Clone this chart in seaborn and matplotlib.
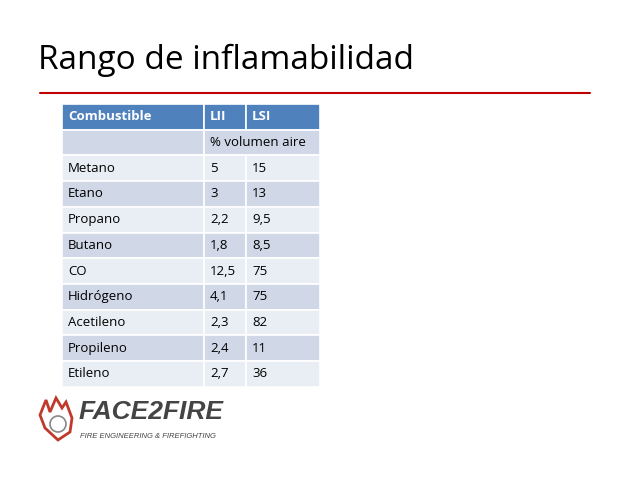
import matplotlib
matplotlib.use("Agg")
import matplotlib.pyplot as plt
import seaborn as sns
from matplotlib.patches import Rectangle, Polygon, Circle

sns.set_theme(style="white")
plt.rcParams['font.family'] = ['Open Sans', 'DejaVu Sans']
plt.rcParams['text.color'] = 'black'

combustibles = ["Metano", "Etano", "Propano", "Butano", "CO", "Hidrógeno", "Acetileno", "Propileno", "Etileno"]
lii = ["5", "3", "2,2", "1,8", "12,5", "4,1", "2,3", "2,4", "2,7"]
lsi = ["15", "13", "9,5", "8,5", "75", "75", "82", "11", "36"]
headers = ["Combustible", "LII", "LSI"]
unit_label = "% volumen aire"

W, H = 638, 479
fig = plt.figure(figsize=(6.38, 4.79), dpi=100)
ax = fig.add_axes([0, 0, 1, 1])
ax.set_xlim(0, W); ax.set_ylim(H, 0); ax.axis("off")

ax.text(38, 60, "Rango de inflamabilidad", fontsize=24, va="center", ha="left", color="black")
ax.plot([40, 590], [93, 93], color="#C00000", lw=1.5)

cols = [62, 204, 246, 320]
top, rh = 104, 25.7
dark, light, head = "#D0D8E8", "#E9EDF4", "#4F81BD"
nrows = 2 + len(combustibles)
for r in range(nrows):
    y = top + r * rh
    color = head if r == 0 else (dark if r % 2 == 1 else light)
    if r == 1:
        spans = [(cols[0], cols[1]), (cols[1], cols[3])]
    else:
        spans = [(cols[c], cols[c+1]) for c in range(3)]
    for x0, x1 in spans:
        ax.add_patch(Rectangle((x0, y), x1 - x0, rh, facecolor=color, edgecolor="white", lw=1.2))
for c, h in enumerate(headers):
    ax.text(cols[c] + 6, top + rh/2, h, color="white", fontweight="bold", fontsize=9.5, va="center")
ax.text(cols[1] + 6, top + 1.5*rh, unit_label, fontsize=9.5, va="center", color="black")
for i, (n, a, b) in enumerate(zip(combustibles, lii, lsi)):
    y = top + (i + 2.5) * rh
    ax.text(cols[0] + 6, y, n, fontsize=9.5, va="center", color="black")
    ax.text(cols[1] + 6, y, a, fontsize=9.5, va="center", color="black")
    ax.text(cols[2] + 6, y, b, fontsize=9.5, va="center", color="black")

# logo
flame = [(45, 428), (40, 415), (46, 400), (50, 412), (56, 398), (62, 408), (66, 402), (72, 418), (70, 432), (58, 440)]
ax.add_patch(Polygon(flame, closed=True, facecolor="none", edgecolor="#C0392B", lw=2))
ax.add_patch(Circle((58, 424), 8, facecolor="none", edgecolor="#888888", lw=1.2))
ax.text(79, 412, "FACE2FIRE", fontsize=19, fontweight="bold", style="italic", color="#444444",
        va="center", family=["Liberation Sans", "DejaVu Sans"])
ax.text(80, 436, "FIRE ENGINEERING & FIREFIGHTING", fontsize=5.5, style="italic", color="#444444",
        va="center", family=["Liberation Sans", "DejaVu Sans"])

fig.savefig("out.png", dpi=100)
